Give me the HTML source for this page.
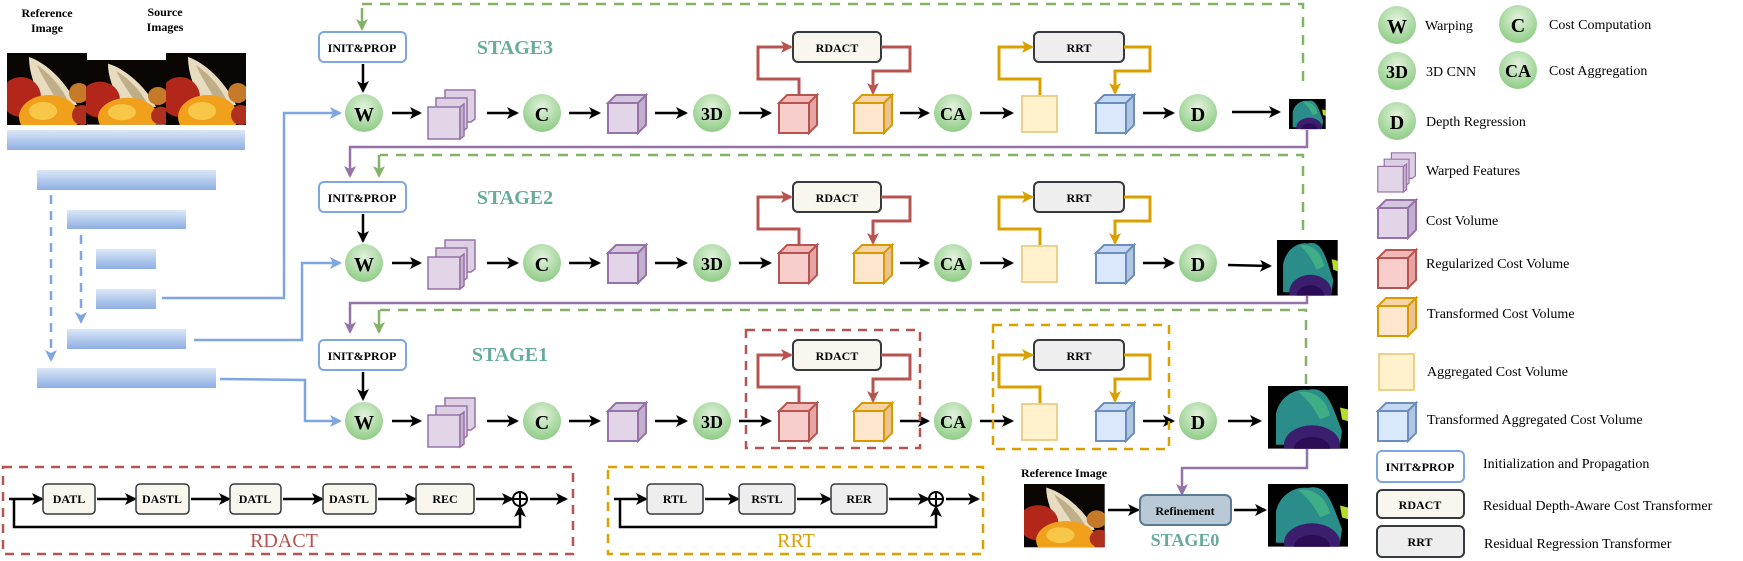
<!DOCTYPE html>
<html><head><meta charset="utf-8"><style>
html,body{margin:0;padding:0;background:#fff;}
svg{display:block;font-family:"Liberation Serif",serif;}
.b{font-weight:bold;}
</style></head><body>
<svg width="1743" height="561" viewBox="0 0 1743 561" xmlns="http://www.w3.org/2000/svg">
<defs>
<radialGradient id="gg" cx="50%" cy="35%" r="65%"><stop offset="0" stop-color="#e3f3dd"/><stop offset="1" stop-color="#8fcc86"/></radialGradient>
<linearGradient id="bar" x1="0" y1="0" x2="0" y2="1"><stop offset="0" stop-color="#dbe7f8"/><stop offset="1" stop-color="#8eaee2"/></linearGradient>
<marker id="ak" markerWidth="12" markerHeight="12" refX="10" refY="6" orient="auto" markerUnits="userSpaceOnUse"><path d="M0,0 L12,6 L0,12 L3,6 Z" fill="#000"/></marker>
<marker id="ab" markerWidth="12" markerHeight="12" refX="10" refY="6" orient="auto" markerUnits="userSpaceOnUse"><path d="M0,0 L12,6 L0,12 L3,6 Z" fill="#7ea6e0"/></marker>
<marker id="ar" markerWidth="12" markerHeight="12" refX="10" refY="6" orient="auto" markerUnits="userSpaceOnUse"><path d="M0,0 L12,6 L0,12 L3,6 Z" fill="#b85450"/></marker>
<marker id="ao" markerWidth="12" markerHeight="12" refX="10" refY="6" orient="auto" markerUnits="userSpaceOnUse"><path d="M0,0 L12,6 L0,12 L3,6 Z" fill="#d9a000"/></marker>
<marker id="ap" markerWidth="12" markerHeight="12" refX="10" refY="6" orient="auto" markerUnits="userSpaceOnUse"><path d="M0,0 L12,6 L0,12 L3,6 Z" fill="#9673a6"/></marker>
<marker id="ag" markerWidth="12" markerHeight="12" refX="10" refY="6" orient="auto" markerUnits="userSpaceOnUse"><path d="M0,0 L12,6 L0,12 L3,6 Z" fill="#82b366"/></marker>
<g id="cP"><path d="M1,9 L9,1 L39,1 L31,9 Z" fill="#d5c6df" stroke="#9673a6" stroke-width="2"/><path d="M31,9 L39,1 L39,31 L31,39 Z" fill="#c3b0cf" stroke="#9673a6" stroke-width="2"/><rect x="1" y="9" width="30" height="30" fill="#e1d5e7" stroke="#9673a6" stroke-width="2"/></g>
<g id="cR"><path d="M1,9 L9,1 L39,1 L31,9 Z" fill="#f1b9b7" stroke="#b85450" stroke-width="2"/><path d="M31,9 L39,1 L39,31 L31,39 Z" fill="#e5a5a3" stroke="#b85450" stroke-width="2"/><rect x="1" y="9" width="30" height="30" fill="#f8cecc" stroke="#b85450" stroke-width="2"/></g>
<g id="cO"><path d="M1,9 L9,1 L39,1 L31,9 Z" fill="#f7d3a8" stroke="#d79b00" stroke-width="2"/><path d="M31,9 L39,1 L39,31 L31,39 Z" fill="#ecc390" stroke="#d79b00" stroke-width="2"/><rect x="1" y="9" width="30" height="30" fill="#ffe6cc" stroke="#d79b00" stroke-width="2"/></g>
<g id="cB"><path d="M1,9 L9,1 L39,1 L31,9 Z" fill="#c5d8f2" stroke="#6c8ebf" stroke-width="2"/><path d="M31,9 L39,1 L39,31 L31,39 Z" fill="#b3c6e0" stroke="#6c8ebf" stroke-width="2"/><rect x="1" y="9" width="30" height="30" fill="#dae8fc" stroke="#6c8ebf" stroke-width="2"/></g>
<g id="sq"><rect x="1" y="1" width="35" height="36" fill="#fff2cc" stroke="#ecd18c" stroke-width="2"/></g>
<g id="wf"><g stroke="#9673a6" stroke-width="1.5">
<path d="M18,1 L48,1 L48,30 L44,33 L18,33 Z" fill="#ddd0e5"/>
<path d="M9,9 L40,9 L40,39 L36,42 L9,42 Z" fill="#ddd0e5"/>
<rect x="1" y="18" width="32" height="32" fill="#e1d5e7"/>
<path d="M33,18 L37,15 L37,47 L33,50 Z" fill="#c3b0cf"/></g></g>
<clipPath id="fclip"><rect x="0" y="0" width="80" height="72"/></clipPath>
<g id="fruit" clip-path="url(#fclip)"><rect width="80" height="72" fill="#0a0604"/>
<path d="M22,4 C40,10 60,30 70,52 L40,56 C30,40 22,22 22,4 Z" fill="#e8dcc0"/>
<path d="M30,12 C42,20 55,34 62,50 L52,52 C45,38 36,26 30,12 Z" fill="#bfae88"/>
<circle cx="14" cy="44" r="20" fill="#b3261a"/><circle cx="72" cy="40" r="10" fill="#c57a2a"/>
<ellipse cx="42" cy="64" rx="30" ry="22" fill="#f0a01a"/><ellipse cx="36" cy="58" rx="14" ry="9" fill="#f8c748"/>
<circle cx="75" cy="62" r="10" fill="#b0301f"/></g>
<clipPath id="dclip"><rect x="0" y="0" width="80" height="64"/></clipPath>
<g id="depth" clip-path="url(#dclip)"><rect width="80" height="64" fill="#000"/>
<path d="M8,28 C12,10 28,2 40,4 C56,0 62,14 68,30 L74,46 L72,60 L8,60 Z" fill="#2a8d8a"/>
<path d="M30,6 C44,4 58,12 62,30 L52,34 C46,22 38,12 30,6 Z" fill="#3fae86"/>
<path d="M72,22 L80,24 L80,36 L74,34 Z" fill="#b5dd2a"/>
<ellipse cx="44" cy="60" rx="28" ry="20" fill="#3c1e6e"/><ellipse cx="44" cy="64" rx="18" ry="12" fill="#2a0d55"/></g>
</defs>

<text x="47" y="17" font-size="12" class="b" text-anchor="middle">Reference</text>
<text x="47" y="32" font-size="12" class="b" text-anchor="middle">Image</text>
<text x="165" y="16" font-size="12" class="b" text-anchor="middle">Source</text>
<text x="165" y="31" font-size="12" class="b" text-anchor="middle">Images</text>
<use href="#fruit" transform="translate(7,53)"/>
<use href="#fruit" transform="translate(86,60) scale(1,0.9)"/>
<use href="#fruit" transform="translate(166,53)"/>

<rect x="7" y="130" width="238" height="20" fill="url(#bar)"/>
<rect x="37" y="170" width="179" height="20" fill="url(#bar)"/>
<rect x="67" y="210" width="119" height="19" fill="url(#bar)"/>
<rect x="96" y="249" width="60" height="20" fill="url(#bar)"/>
<rect x="96" y="289" width="60" height="20" fill="url(#bar)"/>
<rect x="67" y="329" width="119" height="20" fill="url(#bar)"/>
<rect x="37" y="368" width="179" height="20" fill="url(#bar)"/>
<g stroke="#7ea6e0" stroke-width="2.5" fill="none">
<path d="M51,195 L51,360" stroke-dasharray="9,7" marker-end="url(#ab)"/>
<path d="M81,235 L81,322" stroke-dasharray="9,7" marker-end="url(#ab)"/>
<path d="M162,298 L284,298 L284,113 L340,113" marker-end="url(#ab)"/>
<path d="M194,340 L302,340 L302,263 L340,263" marker-end="url(#ab)"/>
<path d="M220,379 L305,380 L305,421 L340,421" marker-end="url(#ab)"/>
</g>

<g fill="none" stroke-width="2.5">
<path d="M362,4 L1303,4 L1303,88" stroke="#82b366" stroke-dasharray="10,8"/>
<path d="M362,8 L362,29" stroke="#82b366" marker-end="url(#ag)"/>
<path d="M1307,130 L1307,147 L350,147 L350,176" stroke="#9673a6" marker-end="url(#ap)"/>
<path d="M1303,230 L1303,155 L380,155" stroke="#82b366" stroke-dasharray="10,8"/>
<path d="M379,155 L379,176" stroke="#82b366" marker-end="url(#ag)"/>
<path d="M1307,296 L1307,303 L350,303 L350,332" stroke="#9673a6" marker-end="url(#ap)"/>
<path d="M1306,384 L1306,310 L380,310" stroke="#82b366" stroke-dasharray="10,8"/>
<path d="M379,310 L379,332" stroke="#82b366" marker-end="url(#ag)"/>
<path d="M1307,449 L1307,468 L1182,468 L1182,494" stroke="#9673a6" marker-end="url(#ap)"/>
</g>

<g id="row3">
<rect x="319" y="32" width="87" height="30" rx="5" fill="#fff" stroke="#7ea6e0" stroke-width="2"/>
<text x="362" y="52" font-size="12" class="b" text-anchor="middle">INIT&amp;PROP</text>
<text x="515" y="54" font-size="20" class="b" text-anchor="middle" fill="#67ab9f">STAGE3</text>
<path d="M363,64 L363,91" stroke="#000" stroke-width="2.5" marker-end="url(#ak)"/>
<circle cx="364" cy="113" r="19" fill="url(#gg)"/><text x="364" y="121" font-size="20" class="b" text-anchor="middle">W</text>
<use href="#wf" transform="translate(427,89)"/>
<circle cx="542" cy="113" r="19" fill="url(#gg)"/><text x="542" y="121" font-size="20" class="b" text-anchor="middle">C</text>
<use href="#cP" transform="translate(607,94)"/>
<circle cx="712" cy="113" r="19" fill="url(#gg)"/><text x="712" y="120" font-size="18" class="b" text-anchor="middle">3D</text>
<use href="#cR" transform="translate(778,94)"/>
<use href="#cO" transform="translate(853,94)"/>
<circle cx="953" cy="113" r="19" fill="url(#gg)"/><text x="953" y="120" font-size="18" class="b" text-anchor="middle">CA</text>
<use href="#sq" transform="translate(1021,95)"/>
<use href="#cB" transform="translate(1095,94)"/>
<circle cx="1198" cy="113" r="19" fill="url(#gg)"/><text x="1198" y="121" font-size="20" class="b" text-anchor="middle">D</text>
<g stroke="#000" stroke-width="2.5" marker-end="url(#ak)">
<path d="M392,113 L420,113"/><path d="M487,113 L517,113"/><path d="M569,113 L599,113"/><path d="M655,113 L686,113"/><path d="M739,113 L770,113"/><path d="M900,113 L928,113"/><path d="M980,113 L1012,113"/><path d="M1143,113 L1173,113"/></g>
<rect x="793" y="32" width="88" height="30" rx="5" fill="#f9f7ed" stroke="#36393d" stroke-width="2"/>
<text x="837" y="52" font-size="12" class="b" text-anchor="middle">RDACT</text>
<rect x="1034" y="32" width="90" height="30" rx="5" fill="#eeeeee" stroke="#36393d" stroke-width="2"/>
<text x="1079" y="52" font-size="12" class="b" text-anchor="middle">RRT</text>
<g fill="none" stroke-width="3">
<path d="M799,95 L799,79 L758,79 L758,47 L791,47" stroke="#b85450" marker-end="url(#ar)"/>
<path d="M881,47 L910,47 L910,71 L873,71 L873,93" stroke="#b85450" marker-end="url(#ar)"/>
<path d="M1040,95 L1040,79 L999,79 L999,47 L1032,47" stroke="#d9a000" marker-end="url(#ao)"/>
<path d="M1124,47 L1150,47 L1150,71 L1115,71 L1115,93" stroke="#d9a000" marker-end="url(#ao)"/>
</g>
</g>
<use href="#row3" transform="translate(0,150)"/>
<use href="#row3" transform="translate(0,308)"/>
<rect x="470" y="186" width="95" height="24" fill="#fff"/>
<text x="515" y="204" font-size="20" class="b" text-anchor="middle" fill="#67ab9f">STAGE2</text>
<rect x="470" y="344" width="95" height="24" fill="#fff"/>
<text x="510" y="361" font-size="20" class="b" text-anchor="middle" fill="#67ab9f">STAGE1</text>

<g stroke="#000" stroke-width="2.5" marker-end="url(#ak)">
<path d="M1232,112 L1279,112"/><path d="M1228,265 L1270,266"/><path d="M1228,421 L1260,421"/>
</g>
<use href="#depth" transform="translate(1289,99) scale(0.46,0.47)"/>
<use href="#depth" transform="translate(1277,240) scale(0.76,0.87)"/>
<use href="#depth" transform="translate(1268,386) scale(1,0.98)"/>

<rect x="746" y="330" width="174" height="118" fill="none" stroke="#b85450" stroke-width="2.5" stroke-dasharray="9,7"/>
<rect x="993" y="325" width="176" height="124" fill="none" stroke="#d9a000" stroke-width="2.5" stroke-dasharray="9,7"/>

<text x="1064" y="477" font-size="12" class="b" text-anchor="middle">Reference Image</text>
<use href="#fruit" transform="translate(1024,484) scale(1.01,0.88)"/>
<path d="M1108,510 L1138,510" stroke="#000" stroke-width="2.5" marker-end="url(#ak)"/>
<rect x="1140" y="495" width="91" height="30" rx="6" fill="#b9c9d6" stroke="#5a7a95" stroke-width="2"/>
<text x="1185" y="515" font-size="12" class="b" text-anchor="middle">Refinement</text>
<text x="1185" y="546" font-size="18" class="b" text-anchor="middle" fill="#67ab9f">STAGE0</text>
<path d="M1234,510 L1265,510" stroke="#000" stroke-width="2.5" marker-end="url(#ak)"/>
<use href="#depth" transform="translate(1268,484) scale(1,0.98)"/>

<rect x="3" y="467" width="570" height="87" fill="none" stroke="#b85450" stroke-width="2.5" stroke-dasharray="9,7"/>
<g stroke="#000" stroke-width="2.5" fill="none" marker-end="url(#ak)">
<path d="M9,499 L42,499"/><path d="M97,499 L135,499"/><path d="M191,499 L229,499"/><path d="M283,499 L322,499"/><path d="M378,499 L415,499"/><path d="M476,499 L512,499"/><path d="M530,499 L566,499"/>
<path d="M14,499 L14,527 L520,527 L520,507"/>
</g>
<g stroke="#36393d" stroke-width="1.5" fill="#f9f7ed">
<rect x="43" y="484" width="52" height="30" rx="4"/><rect x="136" y="484" width="53" height="30" rx="4"/><rect x="230" y="484" width="51" height="30" rx="4"/><rect x="323" y="484" width="53" height="30" rx="4"/><rect x="416" y="484" width="58" height="30" rx="4"/></g>
<g font-size="12" class="b" text-anchor="middle"><text x="69" y="503">DATL</text><text x="162" y="503">DASTL</text><text x="255" y="503">DATL</text><text x="349" y="503">DASTL</text><text x="445" y="503">REC</text></g>
<circle cx="520" cy="499" r="7" fill="#fff" stroke="#000" stroke-width="2"/><path d="M513,499 L527,499 M520,492 L520,506" stroke="#000" stroke-width="2"/>
<text x="284" y="547" font-size="20" text-anchor="middle" fill="#b5524f">RDACT</text>

<rect x="608" y="467" width="375" height="87" fill="none" stroke="#d9a000" stroke-width="2.5" stroke-dasharray="9,7"/>
<g stroke="#000" stroke-width="2.5" fill="none" marker-end="url(#ak)">
<path d="M614,499 L646,499"/><path d="M705,499 L738,499"/><path d="M797,499 L830,499"/><path d="M889,499 L928,499"/><path d="M946,499 L978,499"/>
<path d="M620,499 L620,527 L936,527 L936,507"/>
</g>
<g stroke="#36393d" stroke-width="1.5" fill="#eeeeee">
<rect x="647" y="484" width="56" height="30" rx="4"/><rect x="739" y="484" width="56" height="30" rx="4"/><rect x="831" y="484" width="56" height="30" rx="4"/></g>
<g font-size="12" class="b" text-anchor="middle"><text x="675" y="503">RTL</text><text x="767" y="503">RSTL</text><text x="859" y="503">RER</text></g>
<circle cx="936" cy="499" r="7" fill="#fff" stroke="#000" stroke-width="2"/><path d="M929,499 L943,499 M936,492 L936,506" stroke="#000" stroke-width="2"/>
<text x="796" y="547" font-size="20" text-anchor="middle" fill="#d9a000">RRT</text>

<g font-size="14">
<circle cx="1397" cy="25" r="19" fill="url(#gg)"/><text x="1397" y="33" font-size="20" class="b" text-anchor="middle">W</text><text x="1425" y="30">Warping</text>
<circle cx="1518" cy="24" r="19" fill="url(#gg)"/><text x="1518" y="32" font-size="20" class="b" text-anchor="middle">C</text><text x="1549" y="29">Cost Computation</text>
<circle cx="1397" cy="71" r="19" fill="url(#gg)"/><text x="1397" y="78" font-size="18" class="b" text-anchor="middle">3D</text><text x="1426" y="76">3D CNN</text>
<circle cx="1518" cy="70" r="19" fill="url(#gg)"/><text x="1518" y="77" font-size="18" class="b" text-anchor="middle">CA</text><text x="1549" y="75">Cost Aggregation</text>
<circle cx="1397" cy="121" r="19" fill="url(#gg)"/><text x="1397" y="129" font-size="20" class="b" text-anchor="middle">D</text><text x="1426" y="126">Depth Regression</text>
<use href="#wf" transform="translate(1377,152) scale(0.8)"/><text x="1426" y="175">Warped Features</text>
<use href="#cP" transform="translate(1377,199)"/><text x="1426" y="225">Cost Volume</text>
<use href="#cR" transform="translate(1377,249)"/><text x="1426" y="268">Regularized Cost Volume</text>
<use href="#cO" transform="translate(1377,297)"/><text x="1427" y="318">Transformed Cost Volume</text>
<use href="#sq" transform="translate(1378,353)"/><text x="1427" y="376">Aggregated Cost Volume</text>
<use href="#cB" transform="translate(1377,402)"/><text x="1427" y="424">Transformed Aggregated Cost Volume</text>
<rect x="1377" y="451" width="87" height="31" rx="5" fill="#fff" stroke="#7ea6e0" stroke-width="2"/><text x="1420" y="471" font-size="12" class="b" text-anchor="middle">INIT&amp;PROP</text><text x="1483" y="468">Initialization and Propagation</text>
<rect x="1377" y="490" width="87" height="28" rx="5" fill="#f9f7ed" stroke="#36393d" stroke-width="2"/><text x="1420" y="509" font-size="12" class="b" text-anchor="middle">RDACT</text><text x="1483" y="510">Residual Depth-Aware Cost Transformer</text>
<rect x="1377" y="526" width="87" height="31" rx="5" fill="#eeeeee" stroke="#36393d" stroke-width="2"/><text x="1420" y="546" font-size="12" class="b" text-anchor="middle">RRT</text><text x="1484" y="548">Residual Regression Transformer</text>
</g>
</svg>
</body></html>
